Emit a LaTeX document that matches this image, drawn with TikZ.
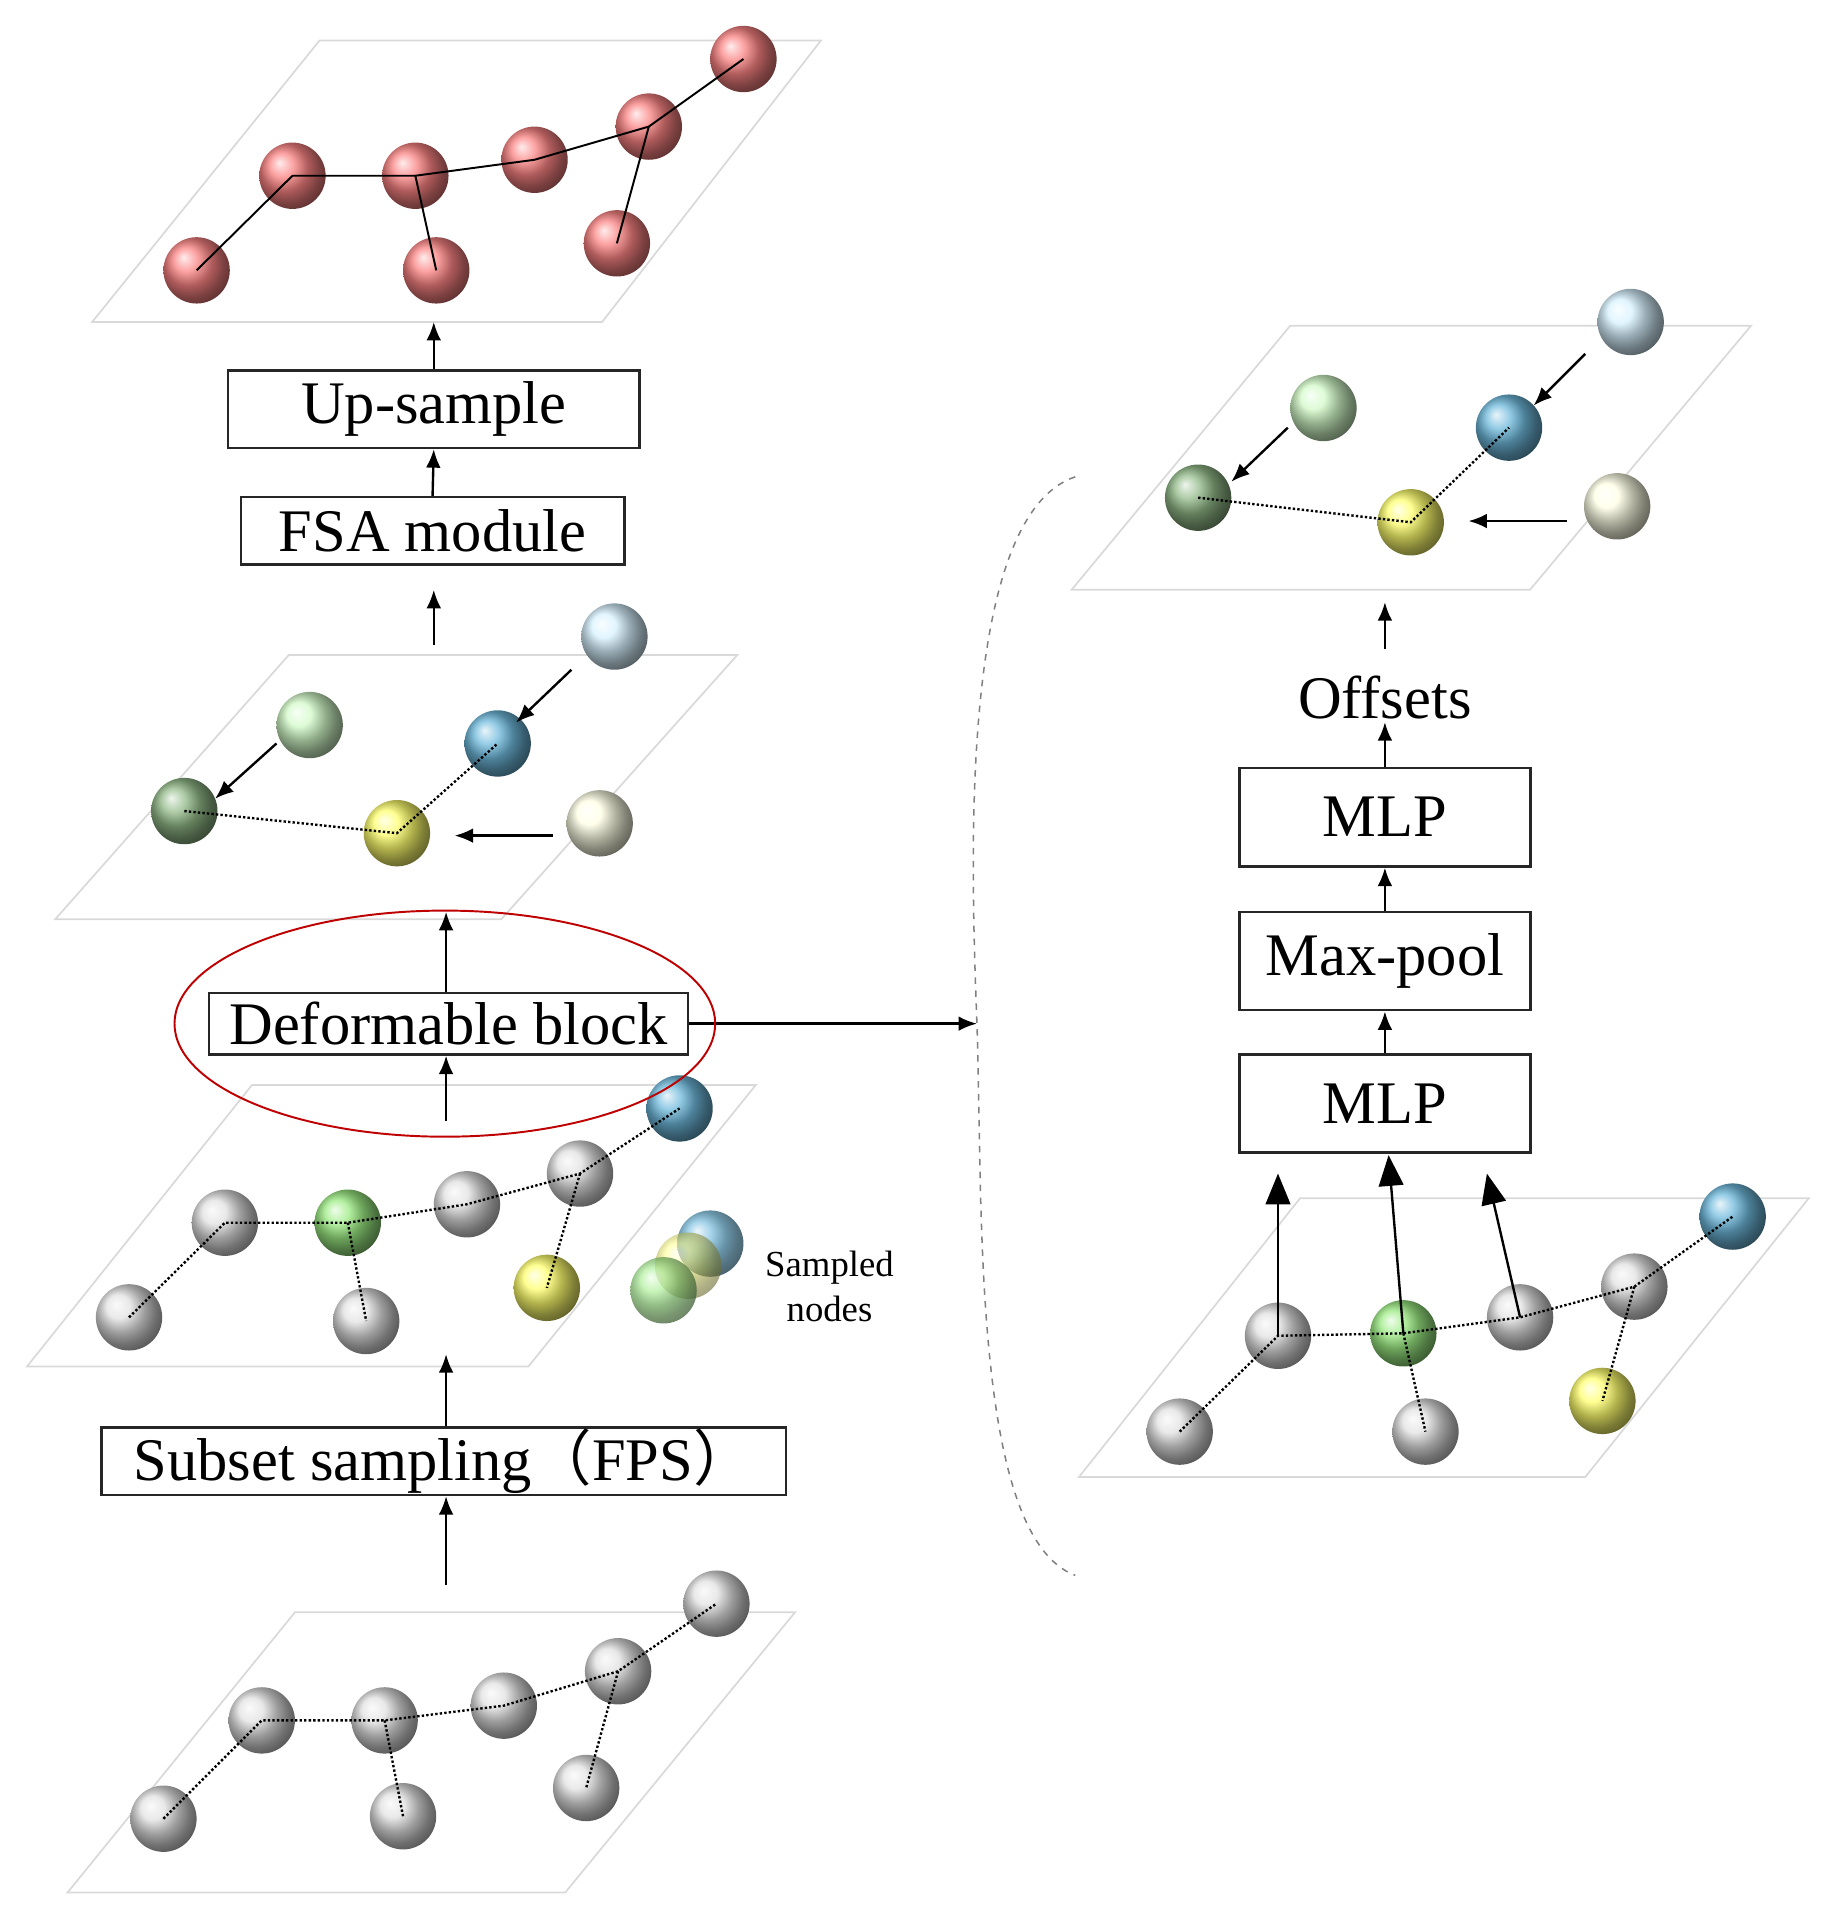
\documentclass[tikz,border=0pt]{standalone}
\usepackage{fontspec}
\setmainfont{Liberation Serif}
\newfontfamily\cjk{Noto Sans CJK SC}
\usetikzlibrary{arrows.meta}
\begin{document}
\begin{tikzpicture}[x=0.2mm,y=-0.2mm,
 plane/.style={draw=black!15,line width=0.8pt},
 box/.style={draw=black!85,line width=1.2pt,inner sep=0pt,font=\fontsize{28}{34}\selectfont},
 b/.style={circle,inner sep=0pt,minimum size=10.8mm,shading=ball,ball color=#1},
 sl/.style={line width=0.9pt},
 dl/.style={densely dotted,line width=1.1pt},
 ar/.style={-{Latex[length=3mm,width=2.4mm]},line width=1.1pt},
 bar/.style={-{Triangle[length=5mm,width=4mm]},line width=1.1pt}]
\useasboundingbox (0,0) rectangle (1500,1560);
\definecolor{rd}{RGB}{250,130,130}\definecolor{gy}{RGB}{225,225,225}
\definecolor{lg}{RGB}{210,250,200}\definecolor{dg}{RGB}{145,185,135}
\definecolor{bl}{RGB}{110,185,220}\definecolor{lb}{RGB}{215,242,255}
\definecolor{ye}{RGB}{255,255,110}\definecolor{py}{RGB}{255,255,230}
\definecolor{gr}{RGB}{155,235,130}
% planes
\draw[plane] (75,262)--(490,262)--(668,33)--(260,33)--cycle;
\draw[plane] (45,748)--(408,748)--(600,533)--(235,533)--cycle;
\draw[plane] (22,1112)--(430,1112)--(615,883)--(205,883)--cycle;
\draw[plane] (55,1540)--(460,1540)--(647,1312)--(240,1312)--cycle;
\draw[plane] (872,480)--(1245,480)--(1425,265)--(1050,265)--cycle;
\draw[plane] (878,1202)--(1290,1202)--(1472,975)--(1058,975)--cycle;
% P1
\foreach \n/\x/\y in {a1/160/220,a2/238/143,a3/338/143,a4/435/130,a5/528/103,a6/605/48,a7/355/220,a8/502/198}
 \node[b=rd] (\n) at (\x,\y) {};
\draw[sl] (a1.center)--(a2.center)--(a3.center)--(a4.center)--(a5.center)--(a6.center);
\draw[sl] (a3.center)--(a7.center) (a5.center)--(a8.center);
% P2
\node[b=lg] (c1) at (252,590) {};
\node[b=dg] (c2) at (150,660) {};
\node[b=bl] (c3) at (405,605) {};
\node[b=lb] (c4) at (500,518) {};
\node[b=ye] (c5) at (323,678) {};
\node[b=py] (c6) at (488,670) {};
\draw[dl] (c2.center)--(c5.center)--(c3.center);
\coordinate (q1) at (465,545);\coordinate (q1e) at (420,588);
\coordinate (q2) at (225,605);\coordinate (q2e) at (175,650);
\coordinate (q3) at (450,680);\coordinate (q3e) at (370,680);
\draw[ar] (q1)--(q1e);\draw[ar] (q2)--(q2e);\draw[ar] (q3)--(q3e);
% P3
\foreach \n/\x/\y/\c in {d1/105/1072/gy,d2/183/995/gy,d3/283/995/gr,d4/380/980/gy,d5/472/955/gy,d6/553/902/bl,d7/298/1075/gy,d8/445/1048/ye}
 \node[b=\c] (\n) at (\x,\y) {};
\draw[dl] (d1.center)--(d2.center)--(d3.center)--(d4.center)--(d5.center)--(d6.center);
\draw[dl] (d3.center)--(d7.center) (d5.center)--(d8.center);
\node[b=bl,opacity=0.85] (s1) at (578,1012) {};
\node[b=ye,opacity=0.6] (s2) at (560,1030) {};
\node[b=gr,opacity=0.75] (s3) at (540,1050) {};
\node[font=\fontsize{17}{21}\selectfont,align=center] (sn) at (675,1047) {Sampled\\nodes};
% P4
\foreach \n/\x/\y in {e1/133/1480,e2/213/1400,e3/313/1400,e4/410/1388,e5/503/1360,e6/583/1305,e7/328/1478,e8/477/1455}
 \node[b=gy] (\n) at (\x,\y) {};
\draw[dl] (e1.center)--(e2.center)--(e3.center)--(e4.center)--(e5.center)--(e6.center);
\draw[dl] (e3.center)--(e7.center) (e5.center)--(e8.center);
% P5
\node[b=lg] (f1) at (1077,332) {};
\node[b=dg] (f2) at (975,405) {};
\node[b=bl] (f3) at (1228,348) {};
\node[b=lb] (f4) at (1327,262) {};
\node[b=ye] (f5) at (1148,425) {};
\node[b=py] (f6) at (1316,412) {};
\draw[dl] (f2.center)--(f5.center)--(f3.center);
\coordinate (r1) at (1290,288);\coordinate (r1e) at (1248,330);
\coordinate (r2) at (1048,348);\coordinate (r2e) at (1002,392);
\coordinate (r3) at (1275,424);\coordinate (r3e) at (1195,424);
\draw[ar] (r1)--(r1e);\draw[ar] (r2)--(r2e);\draw[ar] (r3)--(r3e);
% P6
\foreach \n/\x/\y/\c in {g1/960/1165/gy,g2/1040/1087/gy,g3/1142/1085/gr,g4/1237/1072/gy,g5/1330/1047/gy,g6/1410/990/bl,g7/1160/1165/gy,g8/1304/1140/ye}
 \node[b=\c] (\n) at (\x,\y) {};
\draw[dl] (g1.center)--(g2.center)--(g3.center)--(g4.center)--(g5.center)--(g6.center);
\draw[dl] (g3.center)--(g7.center) (g5.center)--(g8.center);
% boxes
\node[box,minimum width=67mm,minimum height=12.6mm] (up) at (353,333) {Up-sample};
\node[box,minimum width=62.4mm,minimum height=11mm] (fsa) at (352,432) {FSA module};
\node[box,minimum width=78mm,minimum height=10mm] (def) at (365,833) {Deformable block};
\node[box,minimum width=111.4mm,minimum height=11mm] (ss) at (361,1189) {Subset sampling{\cjk （}FPS{\cjk ）}};
\node[box,minimum width=47.4mm,minimum height=16mm] (m2) at (1127,665) {MLP};
\node[box,minimum width=47.4mm,minimum height=16mm] (mp) at (1127,782) {Max-pool};
\node[box,minimum width=47.4mm,minimum height=16mm] (m1) at (1127,898) {MLP};
\node[font=\fontsize{28}{34}\selectfont,inner sep=1pt] (off) at (1127,568) {Offsets};
% arrows left
\coordinate (t1) at (353,262);
\draw[ar] (up.north)--(t1);
\draw[ar] (fsa.north)--(up.south);
\coordinate (u1) at (353,525);\coordinate (u1e) at (353,480);
\draw[ar] (u1)--(u1e);
\coordinate (t2) at (363,742);
\draw[ar] (def.north-|t2)--(t2);
\coordinate (u2) at (363,912);
\draw[ar] (u2)--(def.south-|u2);
\coordinate (t3) at (363,1102);
\draw[ar] (ss.north-|t3)--(t3);
\coordinate (u3) at (363,1290);
\draw[ar] (u3)--(ss.south-|u3);
\coordinate (rt) at (795,833);
\draw[ar] (def.east)--(rt);
% arrows right
\coordinate (t5) at (1127,490);\coordinate (u5) at (1127,528);
\draw[ar] (u5)--(t5);
\draw[ar] (m2.north)--(off.south);
\draw[ar] (mp.north)--(m2.south);
\draw[ar] (m1.north)--(mp.south);
\coordinate (h1) at (1040,955);\coordinate (h2) at (1130,940);\coordinate (h3) at (1210,955);
\draw[bar] (g2.center)--(h1);\draw[bar] (g3.center)--(h2);\draw[bar] (g4.center)--(h3);
% ellipse and brace
\draw[red!75!black,line width=0.9pt] (362,833) ellipse [x radius=220,y radius=92];
\draw[black!50,dashed,line width=0.7pt] (875,388) .. controls (780,420) and (790,700) .. (795,833) .. controls (800,980) and (790,1250) .. (875,1282);
\end{tikzpicture}
\end{document}
